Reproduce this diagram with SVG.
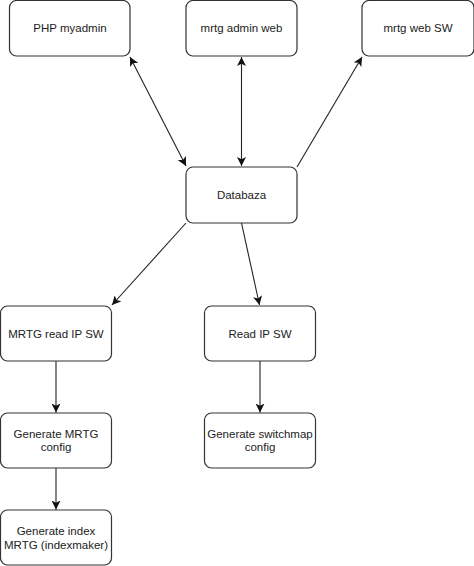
<svg xmlns="http://www.w3.org/2000/svg" width="474" height="566" viewBox="0 0 474 566">
<style>
.n rect{fill:#fff;stroke:#333;stroke-width:1.2}
.n text{font-family:"Liberation Sans",Arial,sans-serif;font-size:11.5px;fill:#222;text-anchor:middle}
#edges line{stroke:#222;stroke-width:1.1;fill:none}
</style>
<defs>
<marker id="ah" viewBox="0 0 10 10" refX="10" refY="5" markerWidth="9" markerHeight="9" markerUnits="userSpaceOnUse" orient="auto-start-reverse">
<path d="M0,0 L10,5 L0,10 L2.5,5 Z" fill="#111"/>
</marker>
</defs>
<rect width="474" height="566" fill="#fff"/>
<g id="edges">
<line x1="130" y1="57" x2="186" y2="166" marker-start="url(#ah)" marker-end="url(#ah)"/>
<line x1="241.5" y1="57" x2="241.5" y2="166" marker-start="url(#ah)" marker-end="url(#ah)"/>
<line x1="297" y1="167" x2="362" y2="57" marker-end="url(#ah)"/>
<line x1="186" y1="223" x2="112" y2="305" marker-end="url(#ah)"/>
<line x1="241.5" y1="223" x2="259.5" y2="305" marker-end="url(#ah)"/>
<line x1="56" y1="361" x2="56" y2="412.5" marker-end="url(#ah)"/>
<line x1="56" y1="468" x2="56" y2="509.5" marker-end="url(#ah)"/>
<line x1="260" y1="361" x2="260" y2="412.5" marker-end="url(#ah)"/>
</g>
<g id="php" class="n"><rect x="9.5" y="0.5" width="120.5" height="55.5" rx="7"/><text x="70" y="32">PHP myadmin</text></g>
<g id="mrtgadmin" class="n"><rect x="186" y="0.5" width="111" height="55.5" rx="7"/><text x="241.5" y="32">mrtg admin web</text></g>
<g id="mrtgwebsw" class="n"><rect x="362" y="0.5" width="112" height="55.5" rx="7"/><text x="418" y="32">mrtg web SW</text></g>
<g id="databaza" class="n"><rect x="186" y="167" width="111" height="56" rx="7"/><text x="241.5" y="199">Databaza</text></g>
<g id="mrtgread" class="n"><rect x="0.5" y="306" width="111" height="55" rx="7"/><text x="56" y="338">MRTG read IP SW</text></g>
<g id="readip" class="n"><rect x="204.5" y="306" width="111" height="55" rx="7"/><text x="260" y="338">Read IP SW</text></g>
<g id="genmrtg" class="n"><rect x="0.5" y="413" width="111" height="55" rx="7"/><text x="56" y="437.5">Generate MRTG</text><text x="56" y="451">config</text></g>
<g id="genswitch" class="n"><rect x="204.5" y="413" width="111" height="55" rx="7"/><text x="260" y="437.5">Generate switchmap</text><text x="260" y="451">config</text></g>
<g id="genindex" class="n"><rect x="0.5" y="510" width="111" height="55" rx="7"/><text x="56" y="535">Generate index</text><text x="56" y="548.5">MRTG (indexmaker)</text></g>
</svg>
